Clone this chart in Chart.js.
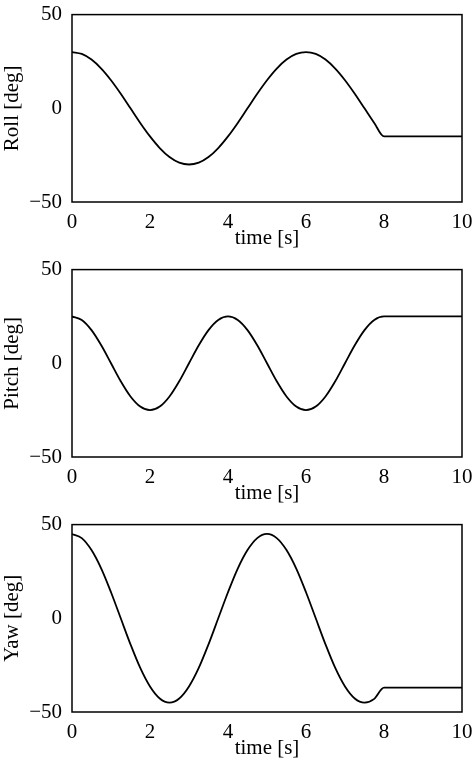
<!DOCTYPE html>
<html>
<head>
<script src="https://cdn.jsdelivr.net/npm/chart.js@4/dist/chart.umd.min.js"></script>
<style>
body{margin:0;background:#fff;}
.c{position:absolute;left:0;width:474px;height:255px;}
</style>
</head>
<body>
<div class="c" style="top:0"><canvas id="roll"></canvas></div>
<div class="c" style="top:255px"><canvas id="pitch"></canvas></div>
<div class="c" style="top:510px"><canvas id="yaw"></canvas></div>
<script>
const time = [0,0.25,0.5,0.75,1,1.25,1.5,1.75,2,2.25,2.5,2.75,3,3.25,3.5,3.75,4,4.25,4.5,4.75,5,5.25,5.5,5.75,6,6.25,6.5,6.75,7,7.25,7.5,7.75,8,8.5,9,9.5,10];
const rollDeg = [30,29,26,21.2,15,7.8,0,-7.8,-15,-21.2,-26,-29,-30,-29,-26,-21.2,-15,-7.8,0,7.8,15,21.2,26,29,30,29,26,21.2,15,7.8,0,-7.8,-15,-15,-15,-15,-15];
const pitchDeg = [25,23.1,17.7,9.6,0,-9.6,-17.7,-23.1,-25,-23.1,-17.7,-9.6,0,9.6,17.7,23.1,25,23.1,17.7,9.6,0,-9.6,-17.7,-23.1,-25,-23.1,-17.7,-9.6,0,9.6,17.7,23.1,25,25,25,25,25];
const yawDeg = [45,42.8,36.4,26.5,13.9,0,-13.9,-26.5,-36.4,-42.8,-45,-42.8,-36.4,-26.5,-13.9,0,13.9,26.5,36.4,42.8,45,42.8,36.4,26.5,13.9,0,-13.9,-26.5,-36.4,-42.8,-45,-43,-37,-37,-37,-37,-37];
const xTicks = [0,2,4,6,8,10];
const yTicks = [-50,0,50];

const font = {family: '"Liberation Serif", "Times New Roman", serif', size: 21};

const boxPlugin = {
  id: 'box',
  afterDraw(chart) {
    const a = chart.chartArea, ctx = chart.ctx;
    ctx.save();
    ctx.strokeStyle = '#000';
    ctx.lineWidth = 1.5;
    ctx.strokeRect(a.left, a.top, a.right - a.left, a.bottom - a.top);
    ctx.restore();
  }
};

function makeChart(id, xs, ys, label) {
  new Chart(document.getElementById(id), {
    type: 'line',
    data: {
      datasets: [{
        data: xs.map((x, i) => ({x: x, y: ys[i]})),
        borderColor: '#000',
        borderWidth: 1.8,
        pointRadius: 0,
        cubicInterpolationMode: 'monotone',
        fill: false
      }]
    },
    options: {
      responsive: true,
      maintainAspectRatio: false,
      animation: false,
      layout: {padding: {top: 10, right: 12, left: 0, bottom: 0}},
      plugins: {legend: {display: false}, tooltip: {enabled: false}},
      scales: {
        x: {
          type: 'linear', min: 0, max: 10,
          grid: {display: false},
          border: {display: false},
          afterBuildTicks: s => { s.ticks = xTicks.map(v => ({value: v})); },
          ticks: {color: '#000', font: font, padding: 0, maxRotation: 0},
          title: {display: true, text: 'time [s]', color: '#000', font: font, padding: {top: 0}},
          afterFit: s => { s.height = 53; }
        },
        y: {
          min: -50, max: 50,
          grid: {display: false},
          border: {display: false},
          afterBuildTicks: s => { s.ticks = yTicks.map(v => ({value: v})); },
          ticks: {color: '#000', font: font, padding: 2, callback: v => v < 0 ? '\u2212' + (-v) : v},
          title: {display: true, text: label, color: '#000', font: font, padding: 0},
          afterFit: s => { s.width = 72; }
        }
      }
    },
    plugins: [boxPlugin]
  });
}

makeChart('roll', time, rollDeg, 'Roll [deg]');
makeChart('pitch', time, pitchDeg, 'Pitch [deg]');
makeChart('yaw', time, yawDeg, 'Yaw [deg]');
</script>
</body>
</html>
